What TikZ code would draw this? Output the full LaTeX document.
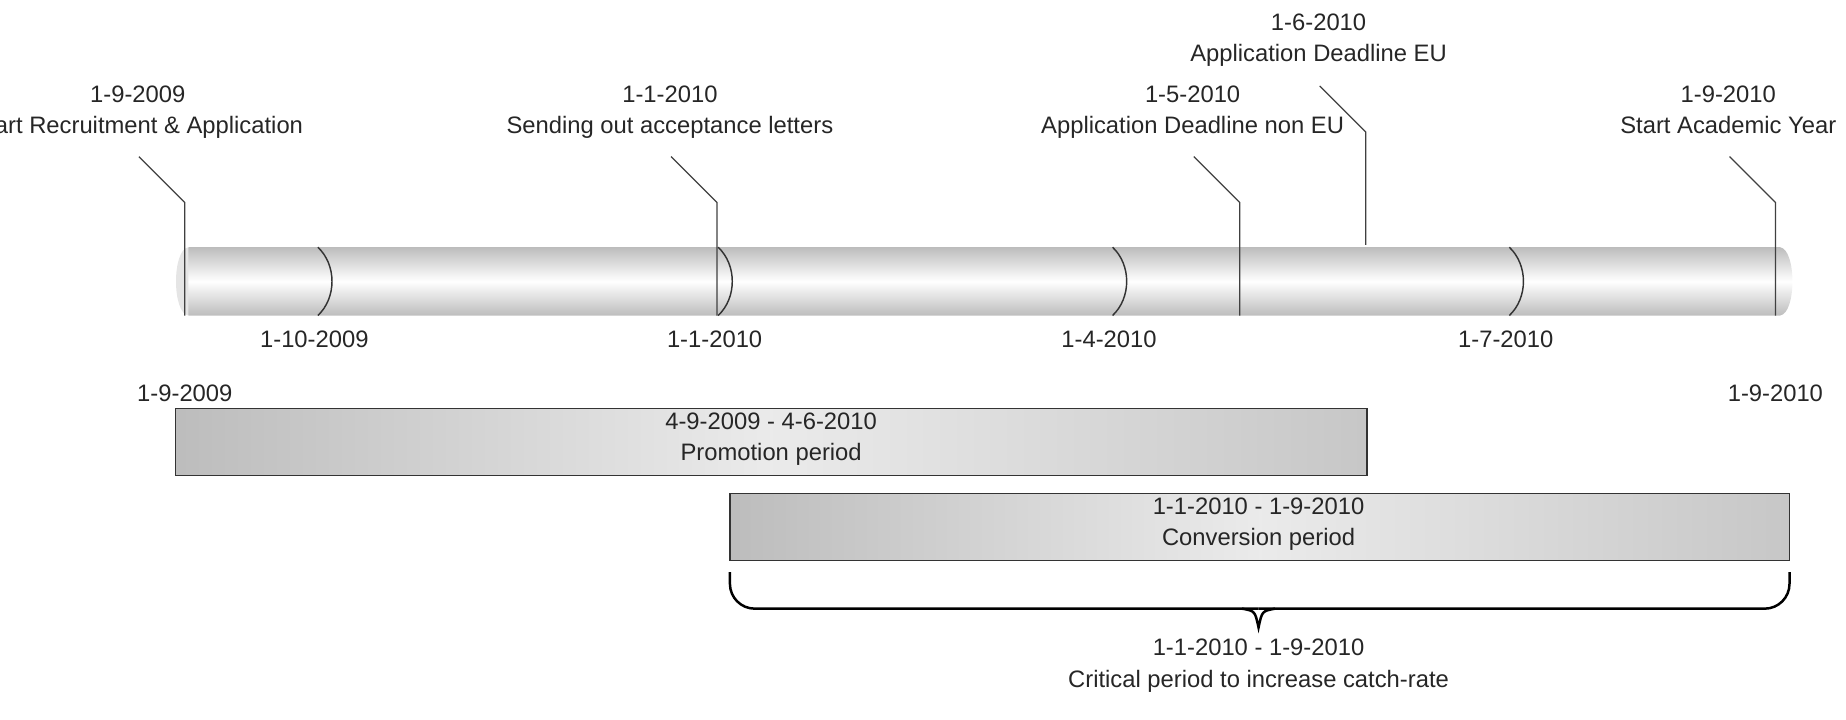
\documentclass[tikz,border=0pt]{standalone}
\usepackage{fontspec}
\setmainfont{Liberation Sans}
\usetikzlibrary{positioning}

\begin{document}
\begin{tikzpicture}[x=0.02cm,y=-0.02cm,font=\fontsize{11.5}{14}\selectfont,
    lbl/.style={align=center,inner sep=0pt,text=black!85},
    mark line/.style={draw=black!75,line width=0.6pt},
    tick arc/.style={draw=black!80,line width=0.7pt},
    period box/.style={draw=black!80,line width=0.7pt,left color=black!26,right color=black!22,middle color=black!8}]

        \useasboundingbox (0,0) rectangle (1568,611);

        % the time bar
        \shade[top color=black!26,bottom color=black!26,middle color=white,shading angle=0]
            (160,210) -- (1512,210) .. controls (1526,212) and (1526,266) .. (1512,268)
            -- (160,268) -- cycle;
        \fill[black!10] (160,210) .. controls (146,212) and (146,266) .. (160,268) -- cycle;

        % quarter ticks
        \foreach \x/\d in {270/1-10-2009, 610/1-1-2010, 945/1-4-2010, 1282/1-7-2010} {
            \draw[tick arc] (\x,210) .. controls (\x+16,225) and (\x+16,253) .. (\x,268);
            \node[lbl] (q\x) at (\x-3,288) {\d};
        }

        % milestones
        \foreach \x/\name/\d/\txt in {157/start/1-9-2009/Start Recruitment \& Application,
                                     609/send/1-1-2010/Sending out acceptance letters,
                                     1053/noneu/1-5-2010/Application Deadline non EU,
                                     1508/acad/1-9-2010/Start Academic Year} {
            \coordinate (\name base) at (\x,268);
            \coordinate (\name knee) at (\x,172);
            \coordinate (\name tip) at (\x-39,133);
            \node[lbl] (\name) at (\x-40,97) {\d\\[1pt]\txt\strut};
            \draw[mark line] (\name base) -- (\name knee) -- (\name tip);
        }
        \coordinate (eu base) at (1160,208);
        \coordinate (eu knee) at (1160,112);
        \coordinate (eu tip) at (1121,73);
        \node[lbl] (eu) at (1120,36) {1-6-2010\\[1pt]Application Deadline EU\strut};
        \draw[mark line] (eu base) -- (eu knee) -- (eu tip);

        % periods
        \node[lbl] (from) at (157,334) {1-9-2009};
        \node[lbl] (until) at (1508,334) {1-9-2010};

        \draw[period box] (149,347) rectangle (1161,404);
        \node[lbl] (promo) at (655,375) {4-9-2009 - 4-6-2010\\[1pt]Promotion period\strut};

        \draw[period box] (620,419) rectangle (1520,476);
        \node[lbl] (conv) at (1069,447) {1-1-2010 - 1-9-2010\\[1pt]Conversion period\strut};

        \draw[black,line width=1.2pt,rounded corners=12]
            (620,486) -- (620,517) -- (1069,517);
        \draw[black,line width=1.2pt,rounded corners=12]
            (1520,486) -- (1520,517) -- (1069,517);
        \draw[black,line width=1.2pt] (1055,517) .. controls (1066,519) .. (1069,533)
            .. controls (1072,519) .. (1083,517);
        \node[lbl] (crit) at (1069,567) {1-1-2010 - 1-9-2010\\[1pt]Critical period to increase catch-rate\strut};
\end{tikzpicture}
\end{document}
